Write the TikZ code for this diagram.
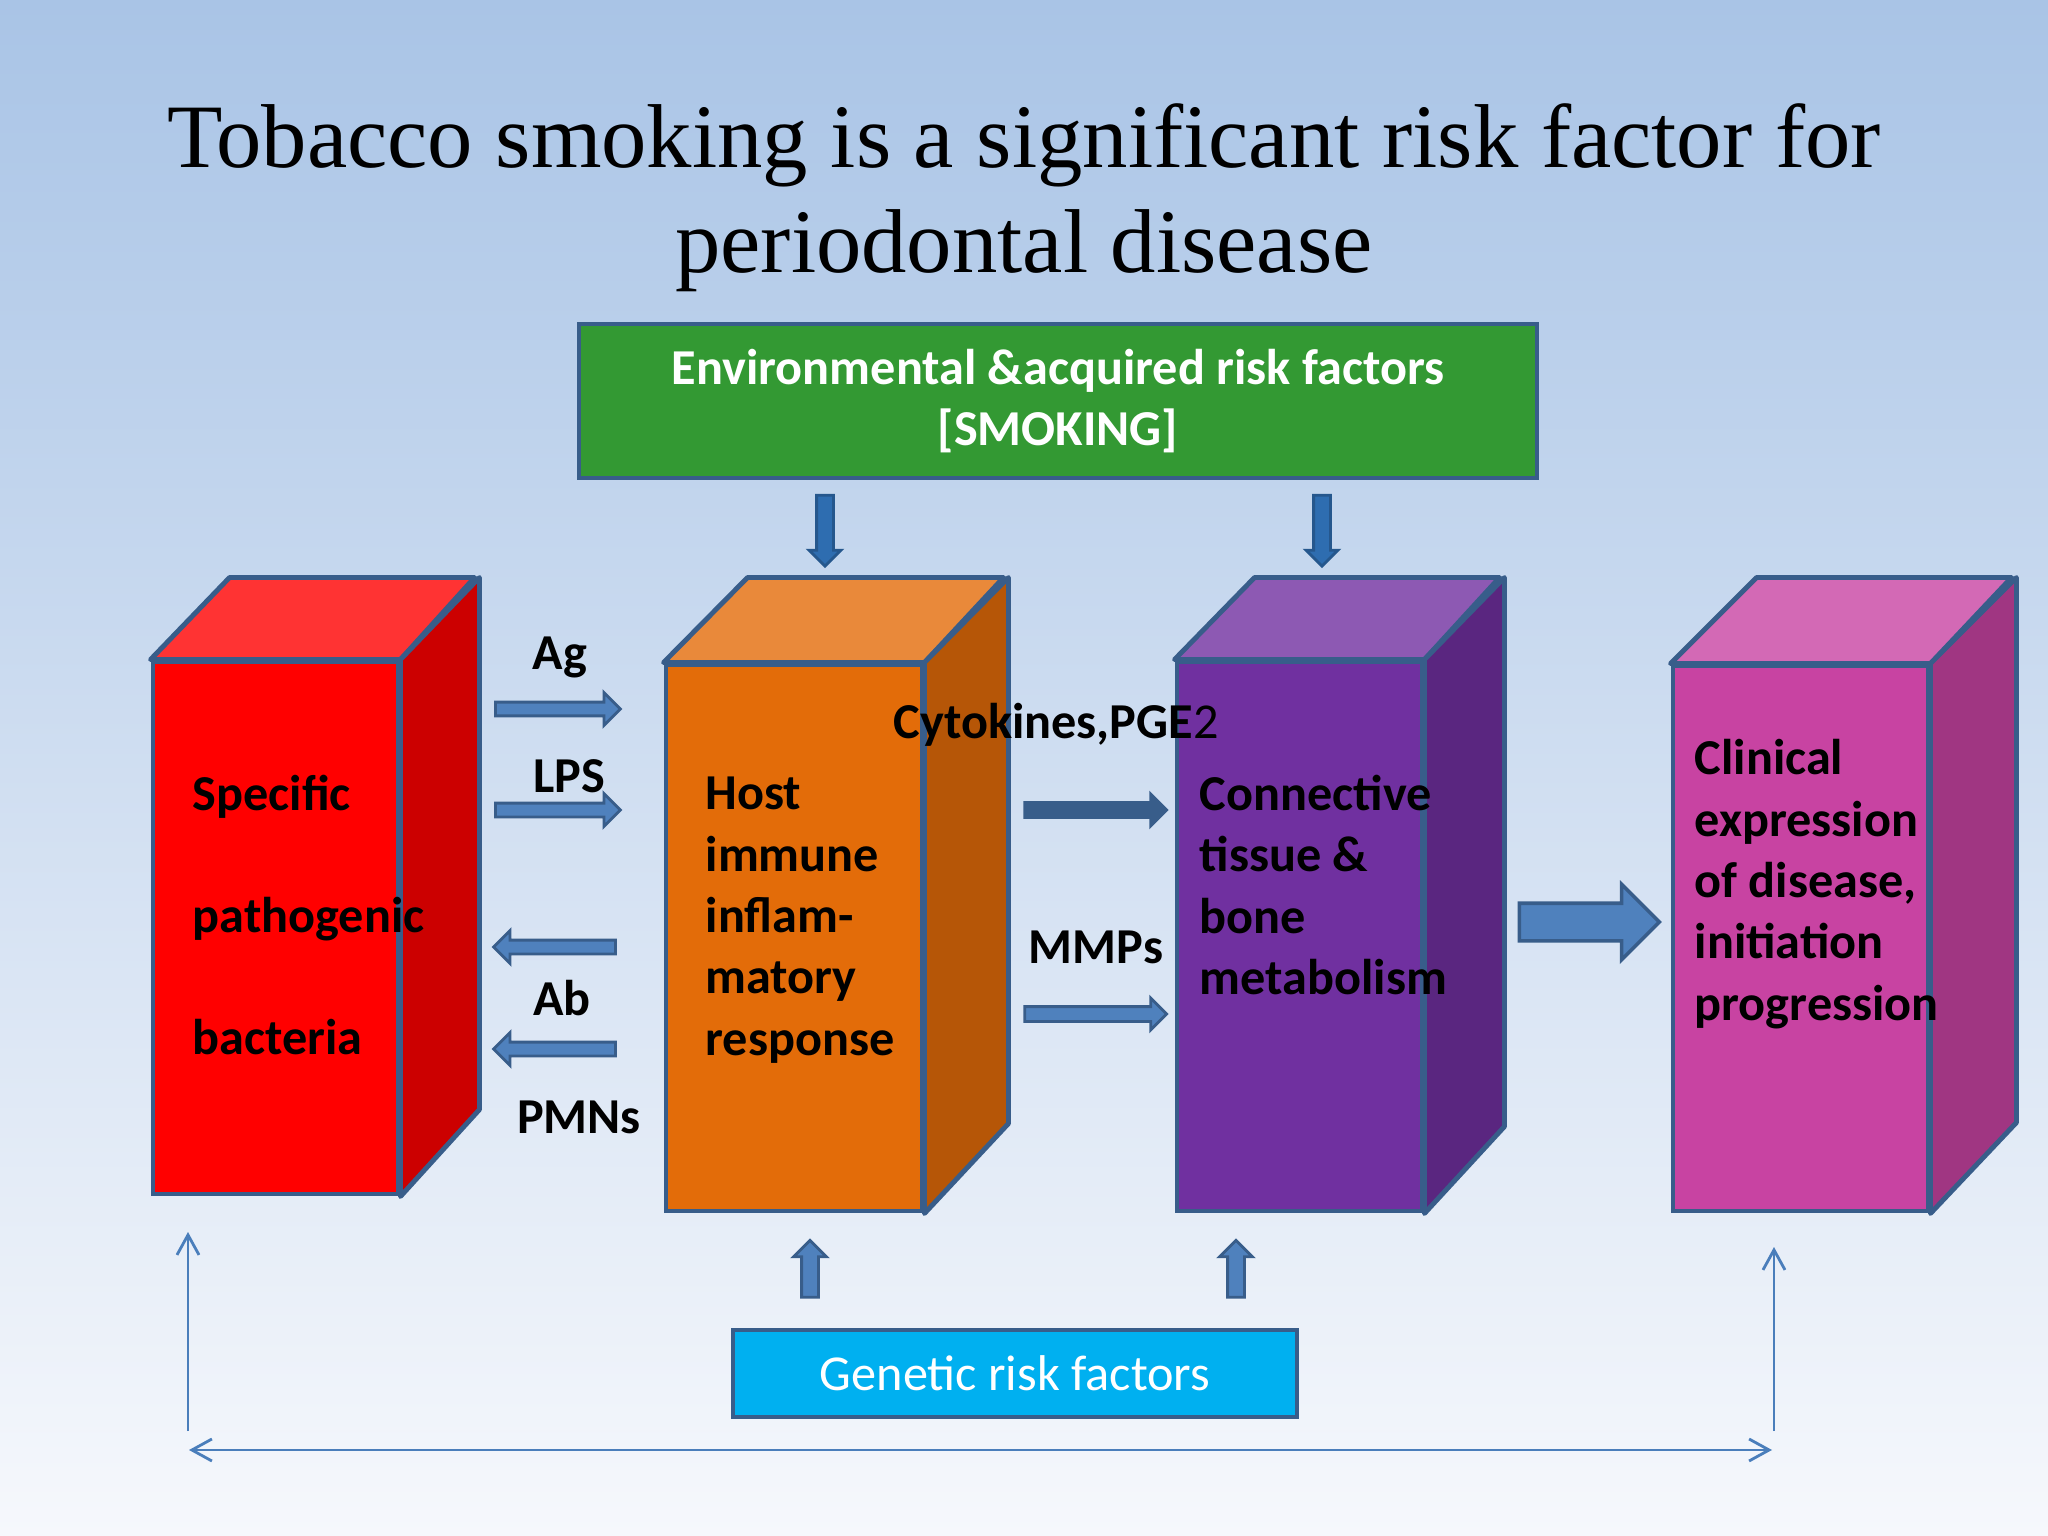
\documentclass[tikz,border=0pt]{standalone}
\usepackage{fontspec}
\setmainfont{Carlito}
\newfontfamily\titlefont{Liberation Serif}
\usetikzlibrary{positioning, arrows.meta, shapes.arrows}
\definecolor{skytop}{HTML}{A9C4E6}
\definecolor{skymid}{HTML}{CCDDF0}
\definecolor{skybot}{HTML}{F6F8FC}
\definecolor{edgeblue}{HTML}{385D8A}
\definecolor{envgreen}{HTML}{339933}
\definecolor{genblue}{HTML}{00B0F0}
\definecolor{boxred}{HTML}{FF0000}
\definecolor{boxorange}{HTML}{E36C09}
\definecolor{boxpurple}{HTML}{7030A0}
\definecolor{boxpink}{HTML}{C843A2}
\definecolor{arrowfill}{HTML}{4F81BD}
\definecolor{arrowdark}{HTML}{2E6DB0}
\definecolor{lineblue}{HTML}{4A7EBB}
\newcommand{\boxfont}{\bfseries\fontsize{14.3}{17.45}\selectfont}

\begin{document}
\begin{tikzpicture}[
    face/.style={draw=edgeblue, line width=1.4pt, inner sep=0pt},
    riskbox/.style={draw=edgeblue, line width=1.3pt, align=center, text=white},
    boxtext/.style={font=\boxfont, align=left, anchor=west, inner sep=0pt},
    lbl/.style={font=\boxfont, inner sep=0pt},
    blockarrow/.style={single arrow, draw=edgeblue, fill=arrowfill,
      line width=0.8pt, inner xsep=0pt, minimum width=0pt},
    thinline/.style={draw=lineblue, line width=0.8pt,
      arrows={-Straight Barb[length=2mm, width=2.2mm]}}
  ]
  % Sky background
  \shade[top color=skytop, middle color=skymid, bottom color=skybot]
    (0,0) rectangle (20.48,-15.36);
  \useasboundingbox (0,0) rectangle (20.48,-15.36);

  % Title
  \node[font=\titlefont\fontsize{25.8}{29.9}\selectfont, align=center]
    (title) at (10.24,-1.98)
    {Tobacco smoking is a significant risk factor for\\periodontal disease};

  % Environmental risk box (top)
  \node[riskbox, fill=envgreen, font=\boxfont,
        minimum width=9.58cm, minimum height=1.54cm]
    (env) at (10.58,-4.01)
    {Environmental \&acquired risk factors\\{[SMOKING]}};

  % Genetic risk box (bottom)
  \node[riskbox, fill=genblue, font=\fontsize{14.3}{17.45}\selectfont,
        minimum width=5.64cm, minimum height=0.87cm]
    (gen) at (10.15,-13.735) {Genetic risk factors};

  % Cuboids: front face, top face, side face
  \foreach \nm/\cx/\cy/\bw/\bh/\dx/\dy/\col in {
      bact/2.755/-9.28/2.45/5.32/0.79/0.82/boxred,
      host/7.94/-9.38/2.56/5.46/0.84/0.85/boxorange,
      conn/12.995/-9.365/2.45/5.49/0.80/0.82/boxpurple,
      clin/18.005/-9.385/2.55/5.45/0.86/0.86/boxpink} {
    \node[face, fill=\col, minimum width=\bw cm, minimum height=\bh cm]
      (\nm) at (\cx,\cy) {};
    \draw[face, fill=\col!80!white, line join=round]
      (\nm.north west) -- ++(\dx,\dy) -- ++(\bw,0) -- (\nm.north east) -- cycle;
    \draw[face, fill=\col!80!black, line join=round]
      (\nm.north east) -- ++(\dx,\dy) -- ++(0,-\bh) -- (\nm.south east) -- cycle;
  }

  % Texts on the cuboids
  \node[boxtext, font=\bfseries\fontsize{14.3}{34.7}\selectfont]
    (bacttxt) at (1.92,-9.15) {Specific\\pathogenic\\bacteria};
  \node[boxtext] (hosttxt) at (7.05,-9.20)
    {Host\\immune\\inflam-\\matory\\response};
  \node[boxtext] (conntxt) at (11.99,-8.85)
    {Connective\\tissue \&\\bone\\metabolism};
  \node[boxtext] (clintxt) at (16.94,-8.84)
    {Clinical\\expression\\of disease,\\initiation\\progression};

  % Mediator labels
  \node[lbl] (ag) at (5.60,-6.57) {Ag};
  \node[lbl] (lps) at (5.69,-7.76) {LPS};
  \node[lbl] (ab) at (5.62,-9.98) {Ab};
  \node[lbl] (pmn) at (5.79,-11.17) {PMNs};
  \node[lbl] (cyto) at (10.56,-7.25) {Cytokines,PGE{\mdseries 2}};
  \node[lbl] (mmp) at (10.96,-9.47) {MMPs};

  % Block arrows
  \foreach \nm/\x/\y/\rot/\len/\sh/\hd in {
      agarr/5.545/-7.09/0/1.25/0.055/0.095,
      lpsarr/5.545/-8.10/0/1.25/0.055/0.095,
      abarr/5.58/-9.47/180/1.22/0.055/0.095,
      pmnarr/5.58/-10.49/180/1.22/0.055/0.095,
      mmparr/10.92/-10.14/0/1.42/0.06/0.085,
      genupa/8.10/-12.73/90/0.57/0.07/0.08,
      genupb/12.36/-12.73/90/0.57/0.07/0.08} {
    \node[blockarrow, rotate=\rot, minimum height=\len cm, inner ysep=\sh cm,
          single arrow head extend=\hd cm] (\nm) at (\x,\y) {};
  }
  \node[blockarrow, fill=edgeblue, minimum height=1.42cm, inner ysep=0.06cm,
        single arrow head extend=0.085cm] (cytoarr) at (10.92,-8.10) {};
  \foreach \nm/\x in {envdowna/8.25, envdownb/13.22} {
    \node[blockarrow, draw=arrowdark!80!black, fill=arrowdark, rotate=-90,
          minimum height=0.71cm, inner ysep=0.07cm,
          single arrow head extend=0.075cm] (\nm) at (\x,-5.265) {};
  }
  \node[blockarrow, line width=1pt, minimum height=1.40cm, inner ysep=0.17cm,
        single arrow head extend=0.19cm] (bigarr) at (15.80,-9.22) {};

  % Feedback lines at the bottom
  \coordinate (leftfoot) at (1.88,-14.31);
  \coordinate (lefttip) at (1.88,-12.32);
  \coordinate (rightfoot) at (17.74,-14.31);
  \coordinate (righttip) at (17.74,-12.47);
  \coordinate (baseleft) at (1.89,-14.50);
  \coordinate (baseright) at (17.72,-14.50);
  \draw[thinline] (leftfoot) -- (lefttip);
  \draw[thinline] (rightfoot) -- (righttip);
  \draw[thinline, arrows={Straight Barb[length=2mm, width=2.2mm]-Straight Barb[length=2mm, width=2.2mm]}]
    (baseleft) -- (baseright);
\end{tikzpicture}
\end{document}
